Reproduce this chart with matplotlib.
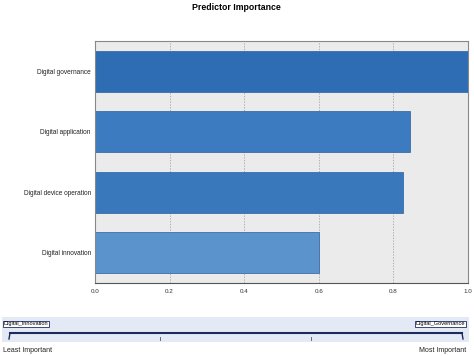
import matplotlib
matplotlib.use("Agg")
import matplotlib.pyplot as plt
from matplotlib.patches import Rectangle

predictors = ["Digital governance", "Digital application", "Digital device operation", "Digital innovation"]
importance = [1.0, 0.845, 0.825, 0.60]
bar_colors = ["#2e6cb3", "#3c7bbf", "#3a78bc", "#5b93cd"]
xticks = [0.0, 0.2, 0.4, 0.6, 0.8, 1.0]
xtick_labels = ["0.0", "0.2", "0.4", "0.6", "0.8", "1.0"]
least_label = "Digital_Innovation"
most_label = "Digital_Governance"

W, H = 474, 356
fig = plt.figure(figsize=(W / 100, H / 100), dpi=100)
fig.patch.set_facecolor("white")

fig.text(236 / W, 1 - 7 / H, "Predictor Importance", ha="center", va="center",
         fontsize=6.3, fontweight="bold", family="Liberation Sans")

ax = fig.add_axes([95 / W, 1 - 283 / H, (468 - 95) / W, (283 - 41) / H])
ax.set_facecolor("#ebebeb")
ypos = list(range(len(predictors)))[::-1]
ax.barh(ypos, importance, height=0.68, color=bar_colors, edgecolor="#2a5f9e", linewidth=0.5, zorder=2)
ax.set_xlim(0, 1.0)
ax.set_ylim(-0.5, len(predictors) - 0.5)
ax.set_yticks(ypos)
ax.set_yticklabels(predictors, fontsize=4.7, family="Liberation Sans", color="#222222")
ax.set_xticks(xticks)
ax.set_xticklabels(xtick_labels, fontsize=4.5, family="Liberation Sans", color="#333333")
ax.tick_params(axis="both", length=0, pad=3)
ax.tick_params(axis="x", pad=4)
for x in xticks[1:-1]:
    ax.axvline(x, color="#999999", linestyle=(0, (2, 2)), linewidth=0.5, zorder=1)
for s in ax.spines.values():
    s.set_color("#888888")
    s.set_linewidth(0.8)
ax.spines["bottom"].set_color("#555555")

# bottom importance strip
ax2 = fig.add_axes([0, 0, 1, 1], facecolor="none")
ax2.set_xlim(0, W)
ax2.set_ylim(H, 0)
ax2.axis("off")
ax2.add_patch(Rectangle((2, 317), 467, 25, facecolor="#e3eaf6", edgecolor="none"))
ax2.plot([10, 462], [333, 333], color="#1c2a5c", linewidth=1.5)
ax2.plot([9, 10], [339, 333], color="#1c2a5c", linewidth=1)
ax2.plot([462, 463], [333, 339], color="#1c2a5c", linewidth=1)
for tx in [160, 311]:
    ax2.plot([tx, tx], [337, 340], color="#555555", linewidth=0.6)
ax2.text(4, 324, least_label, fontsize=4.1, family="Liberation Sans", va="center", ha="left",
         bbox=dict(boxstyle="square,pad=0.15", facecolor="white", edgecolor="#1c2a5c", linewidth=0.6))
ax2.text(465, 324, most_label, fontsize=4.1, family="Liberation Sans", va="center", ha="right",
         bbox=dict(boxstyle="square,pad=0.15", facecolor="white", edgecolor="#1c2a5c", linewidth=0.6))
ax2.text(3, 351, "Least Important", fontsize=5, family="Liberation Sans", va="center", ha="left", color="#222222")
ax2.text(466, 351, "Most Important", fontsize=5, family="Liberation Sans", va="center", ha="right", color="#222222")

fig.savefig("out.png", dpi=100)
